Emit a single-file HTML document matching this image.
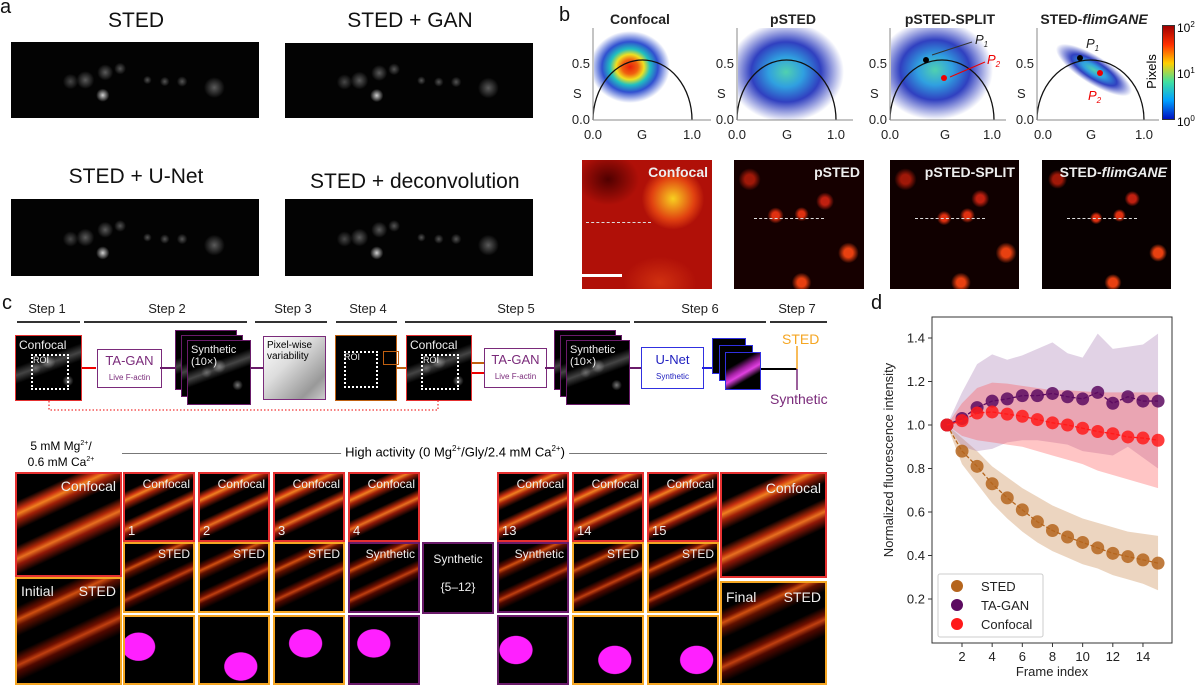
<!DOCTYPE html>
<html><head><meta charset="utf-8">
<style>
body{margin:0;background:#fff;}
#root{position:relative;width:1200px;height:691px;overflow:hidden;font-family:"Liberation Sans",sans-serif;background:#fff;}
.abs{position:absolute;}
.lbl{position:absolute;font-size:20px;color:#111;}
.img{position:absolute;background:#000;box-sizing:border-box;}
.gray{background:radial-gradient(circle at 30% 50%,rgba(150,150,150,.6) 0,rgba(0,0,0,0) 5%),radial-gradient(circle at 38% 40%,rgba(150,150,150,.6) 0,rgba(0,0,0,0) 5%),radial-gradient(circle at 37% 70%,rgba(230,230,230,.9) 0,rgba(0,0,0,0) 4%),radial-gradient(circle at 44% 35%,rgba(140,140,140,.6) 0,rgba(0,0,0,0) 4%),radial-gradient(circle at 55% 50%,rgba(140,140,140,.6) 0,rgba(0,0,0,0) 3%),radial-gradient(circle at 62% 52%,rgba(140,140,140,.6) 0,rgba(0,0,0,0) 3%),radial-gradient(circle at 69% 52%,rgba(140,140,140,.6) 0,rgba(0,0,0,0) 3%),radial-gradient(circle at 82% 60%,rgba(150,150,150,.6) 0,rgba(0,0,0,0) 5%),radial-gradient(circle at 24% 52%,rgba(140,140,140,.5) 0,rgba(0,0,0,0) 4%),#030303;}
.gray2{background:radial-gradient(circle at 30% 50%,rgba(150,150,150,.5) 0,rgba(0,0,0,0) 10%),radial-gradient(circle at 50% 40%,rgba(180,180,180,.6) 0,rgba(0,0,0,0) 14%),radial-gradient(circle at 80% 70%,rgba(200,200,200,.6) 0,rgba(0,0,0,0) 8%),linear-gradient(160deg,#000 35%,#444 45%,#000 55%),#060606;}
.ttl{position:absolute;font-size:21px;color:#111;text-align:center;white-space:nowrap;}
.step{position:absolute;font-size:13px;color:#222;top:301px;white-space:nowrap;transform:translateX(-50%);}
.sline{position:absolute;height:2px;background:#333;top:321px;}
.dend{background:linear-gradient(155deg,#000 18%,#c83010 24%,#f08020 27%,#a02008 31%,#000 38%,#000 48%,#b02808 54%,#e87020 57%,#901808 61%,#000 68%);}
.dend2{background:linear-gradient(155deg,#000 18%,#701000 24%,#d05010 27%,#601000 31%,#000 38%,#000 48%,#701000 54%,#c04010 57%,#500800 61%,#000 68%);}
.tl{position:absolute;font-size:12px;color:#eee;white-space:nowrap;}
.bred{border:2px solid #e53030;}
.bor{border:2px solid #f5a623;}
.bpu{border:2px solid #6a1b6a;}
</style></head>
<body>
<div id="root">

<!-- Panel a -->
<div class="lbl" style="left:0;top:-4px;">a</div>
<div class="ttl" style="left:36px;width:200px;top:9px;">STED</div>
<div class="ttl" style="left:310px;width:200px;top:9px;">STED + GAN</div>
<div class="ttl" style="left:36px;width:200px;top:165px;">STED + U-Net</div>
<div class="ttl" style="left:310px;width:200px;top:170px;">STED + deconvolution</div>
<div class="img gray" style="left:11px;top:42px;width:248px;height:76px;"></div>
<div class="img gray" style="left:285px;top:43px;width:248px;height:75px;"></div>
<div class="img gray" style="left:11px;top:199px;width:248px;height:77px;"></div>
<div class="img gray" style="left:285px;top:199px;width:248px;height:77px;"></div>

<!-- Panel b -->
<div class="lbl" style="left:559px;top:4px;">b</div>
<svg class="abs" style="left:0;top:0" width="1200" height="150" font-family="Liberation Sans" font-size="13" fill="#222">
<defs>
<radialGradient id="c1"><stop offset="0" stop-color="#e82008"/><stop offset=".2" stop-color="#f06010"/><stop offset=".35" stop-color="#f0e020"/><stop offset=".5" stop-color="#20c0c0"/><stop offset=".7" stop-color="#3050d0"/><stop offset="1" stop-color="#3050d0" stop-opacity="0"/></radialGradient>
<radialGradient id="c2"><stop offset="0" stop-color="#50d0b0"/><stop offset=".3" stop-color="#30a0e0"/><stop offset=".6" stop-color="#3040c0"/><stop offset="1" stop-color="#3040c0" stop-opacity="0"/></radialGradient>
<clipPath id="k1"><rect x="594" y="28" width="117" height="92"/></clipPath>
<clipPath id="k2"><rect x="738" y="28" width="115" height="92"/></clipPath>
<clipPath id="k3"><rect x="891" y="28" width="115" height="92"/></clipPath>
<clipPath id="k4"><rect x="1038" y="28" width="121" height="92"/></clipPath>
</defs>
<g>
<ellipse cx="630" cy="67" rx="40" ry="36" fill="url(#c1)" clip-path="url(#k1)"/>
<path d="M593,120 A49.5,60 0 0 1 692,120" fill="none" stroke="#111" stroke-width="1.3"/>
<line x1="593" y1="28" x2="593" y2="120" stroke="#888"/><line x1="593" y1="120" x2="711" y2="120" stroke="#888"/>
<text x="640" y="24" font-weight="bold" font-size="14" text-anchor="middle">Confocal</text>
<text x="590" y="68" text-anchor="end">0.5</text><text x="573" y="98">S</text><text x="590" y="124" text-anchor="end">0.0</text>
<text x="593" y="139" text-anchor="middle">0.0</text><text x="642" y="139" text-anchor="middle">G</text><text x="692" y="139" text-anchor="middle">1.0</text>
</g>
<g>
<ellipse cx="786" cy="72" rx="58" ry="50" fill="url(#c2)" clip-path="url(#k2)"/>
<path d="M737,120 A49.5,60 0 0 1 836,120" fill="none" stroke="#111" stroke-width="1.3"/>
<line x1="737" y1="28" x2="737" y2="120" stroke="#888"/><line x1="737" y1="120" x2="853" y2="120" stroke="#888"/>
<text x="793" y="24" font-weight="bold" font-size="14" text-anchor="middle">pSTED</text>
<text x="734" y="68" text-anchor="end">0.5</text><text x="717" y="98">S</text><text x="734" y="124" text-anchor="end">0.0</text>
<text x="737" y="139" text-anchor="middle">0.0</text><text x="787" y="139" text-anchor="middle">G</text><text x="836" y="139" text-anchor="middle">1.0</text>
</g>
<g>
<ellipse cx="935" cy="70" rx="58" ry="50" fill="url(#c2)" clip-path="url(#k3)"/>
<path d="M890,120 A52,60 0 0 1 994,120" fill="none" stroke="#111" stroke-width="1.3"/>
<line x1="890" y1="28" x2="890" y2="120" stroke="#888"/><line x1="890" y1="120" x2="1006" y2="120" stroke="#888"/>
<circle cx="926" cy="60" r="3" fill="#000"/><circle cx="944" cy="78" r="3" fill="#e00"/>
<line x1="932" y1="55" x2="972" y2="42" stroke="#333"/><line x1="950" y1="77" x2="985" y2="62" stroke="#e00"/>
<text x="950" y="24" font-weight="bold" font-size="14" text-anchor="middle">pSTED-SPLIT</text>
<text x="975" y="44" font-style="italic">P<tspan font-size="8" dy="3">1</tspan></text>
<text x="987" y="64" font-style="italic" fill="#e00">P<tspan font-size="8" dy="3">2</tspan></text>
<text x="887" y="68" text-anchor="end">0.5</text><text x="870" y="98">S</text><text x="887" y="124" text-anchor="end">0.0</text>
<text x="890" y="139" text-anchor="middle">0.0</text><text x="945" y="139" text-anchor="middle">G</text><text x="992" y="139" text-anchor="middle">1.0</text>
</g>
<g>
<ellipse cx="1094" cy="70" rx="44" ry="14" transform="rotate(32 1094 70)" fill="url(#c2)" clip-path="url(#k4)"/>
<path d="M1037,120 A53.5,60 0 0 1 1144,120" fill="none" stroke="#111" stroke-width="1.3"/>
<line x1="1037" y1="28" x2="1037" y2="120" stroke="#888"/><line x1="1037" y1="120" x2="1159" y2="120" stroke="#888"/>
<circle cx="1080" cy="58" r="3" fill="#000"/><circle cx="1100" cy="73" r="3" fill="#e00"/>
<text x="1094" y="24" font-weight="bold" font-size="14" text-anchor="middle">STED-<tspan font-style="italic">flimGANE</tspan></text>
<text x="1086" y="48" font-style="italic">P<tspan font-size="8" dy="3">1</tspan></text>
<text x="1088" y="100" font-style="italic" fill="#e00">P<tspan font-size="8" dy="3">2</tspan></text>
<text x="1034" y="68" text-anchor="end">0.5</text><text x="1017" y="98">S</text><text x="1034" y="124" text-anchor="end">0.0</text>
<text x="1043" y="139" text-anchor="middle">0.0</text><text x="1091" y="139" text-anchor="middle">G</text><text x="1144" y="139" text-anchor="middle">1.0</text>
</g>
</svg>
<div class="abs" style="left:1162px;top:25px;width:11px;height:93px;background:linear-gradient(#a00000,#ff3000,#ffd000,#40e0a0,#00a0ff,#0010c0);border:1px solid #333;"></div>
<div class="abs" style="left:1177px;top:20px;font-size:12px;">10<sup style="font-size:8px">2</sup></div>
<div class="abs" style="left:1177px;top:66px;font-size:12px;">10<sup style="font-size:8px">1</sup></div>
<div class="abs" style="left:1177px;top:114px;font-size:12px;">10<sup style="font-size:8px">0</sup></div>
<div class="abs" style="left:1134px;top:64px;font-size:13px;transform:rotate(-90deg);">Pixels</div>

<div class="img" style="left:582px;top:160px;width:130px;height:129px;background:radial-gradient(ellipse 30% 30% at 70% 30%,#f8d020,#e04010 55%,rgba(176,16,8,0) 80%),radial-gradient(ellipse 35% 25% at 60% 95%,#d03010,rgba(176,16,8,0) 80%),radial-gradient(ellipse 30% 25% at 20% 15%,#500000,rgba(176,16,8,0) 80%),#b01008;"><div class="tl" style="right:4px;top:4px;font-size:14px;font-weight:bold;">Confocal</div><div class="abs" style="left:0;top:114px;width:40px;height:3px;background:#fff;"></div><div class="abs" style="left:4px;top:62px;width:65px;border-top:1px dashed #ddd;"></div></div>
<div class="img" style="left:734px;top:160px;width:130px;height:129px;background:radial-gradient(circle at 32% 43%,#e03010 3%,rgba(0,0,0,0) 7%),radial-gradient(circle at 52% 42%,#e03010 3%,rgba(0,0,0,0) 7%),radial-gradient(circle at 88% 72%,#e84010 3%,rgba(0,0,0,0) 7%),radial-gradient(circle at 70% 32%,#c02010 3%,rgba(0,0,0,0) 7%),radial-gradient(circle at 52% 95%,#e84010 3%,rgba(0,0,0,0) 7%),radial-gradient(circle at 12% 15%,#a01808 3%,rgba(0,0,0,0) 7%),#160000;"><div class="tl" style="right:4px;top:4px;font-size:14px;font-weight:bold;">pSTED</div><div class="abs" style="left:20px;top:58px;width:70px;border-top:1px dashed #ddd;"></div></div>
<div class="img" style="left:890px;top:160px;width:129px;height:129px;background:radial-gradient(circle at 42% 45%,#e03010 3%,rgba(0,0,0,0) 7%),radial-gradient(circle at 60% 43%,#e03010 3%,rgba(0,0,0,0) 7%),radial-gradient(circle at 90% 72%,#e84010 3%,rgba(0,0,0,0) 7%),radial-gradient(circle at 70% 30%,#c02010 3%,rgba(0,0,0,0) 7%),radial-gradient(circle at 55% 95%,#e84010 3%,rgba(0,0,0,0) 7%),radial-gradient(circle at 12% 15%,#a01808 3%,rgba(0,0,0,0) 7%),#100000;"><div class="tl" style="right:4px;top:4px;font-size:14px;font-weight:bold;">pSTED-SPLIT</div><div class="abs" style="left:25px;top:58px;width:70px;border-top:1px dashed #ddd;"></div></div>
<div class="img" style="left:1042px;top:160px;width:129px;height:129px;background:radial-gradient(circle at 42% 45%,#e03010 3%,rgba(0,0,0,0) 6%),radial-gradient(circle at 60% 43%,#e03010 3%,rgba(0,0,0,0) 6%),radial-gradient(circle at 90% 72%,#e84010 3%,rgba(0,0,0,0) 6%),radial-gradient(circle at 70% 30%,#c02010 3%,rgba(0,0,0,0) 6%),radial-gradient(circle at 55% 95%,#e84010 3%,rgba(0,0,0,0) 6%),radial-gradient(circle at 12% 15%,#a01808 3%,rgba(0,0,0,0) 6%),#080000;"><div class="tl" style="right:4px;top:4px;font-size:14px;font-weight:bold;">STED-<i>flimGANE</i></div><div class="abs" style="left:25px;top:58px;width:70px;border-top:1px dashed #ddd;"></div></div>

<!-- Panel c -->
<div class="lbl" style="left:2px;top:292px;">c</div>
<div class="step" style="left:47px;">Step 1</div>
<div class="step" style="left:167px;">Step 2</div>
<div class="step" style="left:293px;">Step 3</div>
<div class="step" style="left:368px;">Step 4</div>
<div class="step" style="left:516px;">Step 5</div>
<div class="step" style="left:700px;">Step 6</div>
<div class="step" style="left:797px;">Step 7</div>
<div class="sline" style="left:17px;width:63px;"></div><div class="sline" style="left:84px;width:163px;"></div><div class="sline" style="left:255px;width:72px;"></div><div class="sline" style="left:336px;width:61px;"></div><div class="sline" style="left:405px;width:225px;"></div><div class="sline" style="left:634px;width:132px;"></div><div class="sline" style="left:770px;width:57px;"></div>

<div class="img bred gray2" style="left:15px;top:335px;width:67px;height:66px;border-width:1px;"><div class="tl" style="left:3px;top:2px;font-size:12px;">Confocal</div><div class="abs" style="left:15px;top:18px;width:34px;height:32px;border:2px dotted #fff;"></div><div class="tl" style="left:17px;top:19px;font-size:9px;">ROI</div></div>
<div class="abs" style="left:97px;top:349px;width:63px;height:37px;border:1px solid #7a2a7a;text-align:center;color:#7a2a7a;"><div style="font-size:13px;margin-top:3px;white-space:nowrap;">TA-GAN</div><div style="font-size:8px;margin-top:5px;white-space:nowrap;">Live F-actin</div></div>
<div class="img bpu gray2" style="left:175px;top:330px;width:62px;height:60px;border-width:1px;"></div><div class="img bpu gray2" style="left:181px;top:335px;width:62px;height:62px;border-width:1px;"></div>
<div class="img bpu gray2" style="left:187px;top:340px;width:64px;height:65px;border-width:1px;"><div class="tl" style="left:3px;top:3px;font-size:11px;">Synthetic<br>(10×)</div></div>
<div class="abs" style="left:263px;top:336px;width:63px;height:64px;border:1px solid #7a2a7a;background:linear-gradient(135deg,#fff,#ddd 40%,#999 80%,#ccc);font-size:10px;box-sizing:border-box;"><div style="margin:3px;">Pixel-wise variability</div></div>
<div class="img" style="left:335px;top:335px;width:62px;height:66px;border:1px solid #c06010;"><div class="tl" style="left:8px;top:16px;font-size:9px;">ROI</div><div class="abs" style="left:8px;top:15px;width:30px;height:33px;border:2px dotted #fff;"></div><div class="abs" style="left:47px;top:15px;width:14px;height:12px;border:1px solid #c06010;"></div></div>
<div class="img bred gray2" style="left:406px;top:335px;width:66px;height:66px;border-width:1px;"><div class="tl" style="left:3px;top:2px;font-size:12px;">Confocal</div><div class="abs" style="left:14px;top:18px;width:34px;height:32px;border:2px dotted #fff;"></div><div class="tl" style="left:16px;top:19px;font-size:9px;">ROI</div></div>
<div class="abs" style="left:484px;top:348px;width:61px;height:38px;border:1px solid #7a2a7a;text-align:center;color:#7a2a7a;"><div style="font-size:13px;margin-top:3px;white-space:nowrap;">TA-GAN</div><div style="font-size:8px;margin-top:5px;white-space:nowrap;">Live F-actin</div></div>
<div class="img bpu gray2" style="left:554px;top:330px;width:62px;height:60px;border-width:1px;"></div><div class="img bpu gray2" style="left:560px;top:335px;width:62px;height:62px;border-width:1px;"></div>
<div class="img bpu gray2" style="left:566px;top:340px;width:64px;height:65px;border-width:1px;"><div class="tl" style="left:3px;top:3px;font-size:11px;">Synthetic<br>(10×)</div></div>
<div class="abs" style="left:641px;top:347px;width:61px;height:40px;border:1px solid #3030e0;text-align:center;color:#2020c0;"><div style="font-size:13px;margin-top:4px;">U-Net</div><div style="font-size:8px;margin-top:5px;">Synthetic</div></div>
<div class="img" style="left:712px;top:338px;width:34px;height:36px;border:1px solid #3030e0;"></div><div class="img" style="left:719px;top:345px;width:34px;height:36px;border:1px solid #3030e0;"></div>
<div class="img" style="left:725px;top:352px;width:36px;height:38px;border:1px solid #3030e0;background:linear-gradient(150deg,#000 30%,#a020a0 45%,#e040e0 55%,#000 70%);"></div>
<svg class="abs" style="left:0;top:330px" width="870" height="90">
<line x1="82" y1="38" x2="96" y2="38" stroke="#e00" stroke-width="2"/>
<line x1="160" y1="38" x2="175" y2="38" stroke="#6a1b6a" stroke-width="2"/>
<line x1="251" y1="38" x2="263" y2="38" stroke="#6a1b6a" stroke-width="2"/>
<line x1="397" y1="38" x2="406" y2="38" stroke="#c06010" stroke-width="2"/>
<line x1="472" y1="33" x2="484" y2="33" stroke="#c06010" stroke-width="2"/><line x1="472" y1="43" x2="484" y2="43" stroke="#e00" stroke-width="2"/>
<line x1="545" y1="38" x2="554" y2="38" stroke="#6a1b6a" stroke-width="2"/>
<line x1="630" y1="38" x2="641" y2="38" stroke="#6a1b6a" stroke-width="2"/>
<line x1="702" y1="38" x2="712" y2="38" stroke="#2020e0" stroke-width="2"/>
<line x1="761" y1="39" x2="797" y2="39" stroke="#000" stroke-width="2"/>
<line x1="797" y1="39" x2="797" y2="16" stroke="#f5a623" stroke-width="1.5"/><line x1="797" y1="39" x2="797" y2="60" stroke="#7a2a7a" stroke-width="1.5"/>
<polyline points="49,71 49,80 438,80 438,71" fill="none" stroke="#e00" stroke-dasharray="1.5 2"/>
</svg>
<div class="abs" style="left:782px;top:331px;font-size:14px;color:#f5a623;">STED</div>
<div class="abs" style="left:770px;top:391px;font-size:14px;color:#7a2a7a;">Synthetic</div>

<div class="abs" style="left:20px;top:437px;width:82px;font-size:12px;line-height:14px;text-align:center;">5 mM Mg<sup style="font-size:7px">2+</sup>/<br>0.6 mM Ca<sup style="font-size:7px">2+</sup></div>
<div class="abs" style="left:122px;top:453px;width:705px;height:1px;background:#777;"></div>
<div class="abs" style="left:455px;top:444px;transform:translateX(-50%);background:#fff;padding:0 4px;font-size:13px;white-space:nowrap;">High activity (0 Mg<sup style="font-size:8px">2+</sup>/Gly/2.4 mM Ca<sup style="font-size:8px">2+</sup>)</div>

<div id="tiles"></div>

<!-- Panel d -->
<div class="lbl" style="left:871px;top:292px;">d</div>
<svg id="chart" class="abs" style="left:0;top:0" width="1200" height="691" font-family="Liberation Sans"></svg>
</div>

<script>
const tiles=document.getElementById('tiles');
function tile(x,y,w,h,cls,extra,name,label,lpos){
  const d=document.createElement('div');
  d.className='img '+cls;
  d.style.cssText='left:'+x+'px;top:'+y+'px;width:'+w+'px;height:'+h+'px;'+(extra||'');
  
  
  if(label){const t=document.createElement('div');t.className='tl';t.style.cssText=lpos||'right:3px;top:2px;';t.innerHTML=label;d.appendChild(t);}
  tiles.appendChild(d);return d;
}
const cols=[123,198,273,348,497,572,647];
const nums=['1','2','3','4','13','14','15'];
const maskPos=['20% 45%','60% 75%','45% 40%','35% 40%','25% 50%','60% 65%','70% 65%'];
for(let i=0;i<7;i++){
  const x=cols[i];
  const c=tile(x,472,72,70,'bred dend','','confocal-frame-'+nums[i],'Confocal','right:3px;top:3px;font-size:12px;');
  const n=document.createElement('div');n.className='tl';n.style.cssText='left:3px;bottom:2px;font-size:13px;';n.textContent=nums[i];c.appendChild(n);
  const syn=(i==3||i==4);
  tile(x,542,72,71,(syn?'bpu':'bor')+' dend2','','sted-frame-'+nums[i],syn?'Synthetic':'STED','right:3px;top:3px;font-size:12px;');
  tile(x,615,72,70,syn?'bpu':'bor','background:radial-gradient(ellipse 25% 22% at '+maskPos[i]+',#ff20ff 95%,rgba(0,0,0,0) 100%),#000;','mask-frame-'+nums[i]);
}
tile(422,542,72,72,'bpu','background:#000;','synthetic-5-12','Synthetic<br><br>{5–12}','left:0;right:0;text-align:center;top:8px;font-size:12px;');
const ic=tile(15,472,107,105,'bred dend','','initial-confocal','Confocal','right:4px;top:4px;font-size:14px;');
const is=tile(15,577,107,108,'bor dend2','','initial-sted','Initial','left:4px;top:4px;font-size:14px;');
const is2=document.createElement('div');is2.className='tl';is2.style.cssText='right:4px;top:4px;font-size:14px;';is2.textContent='STED';is.appendChild(is2);
tile(720,472,107,106,'bred dend','','final-confocal','Confocal','right:4px;top:6px;font-size:14px;');
const fs=tile(720,581,107,104,'bor dend2','','final-sted','Final','left:4px;top:6px;font-size:14px;');
const fs2=document.createElement('div');fs2.className='tl';fs2.style.cssText='right:4px;top:6px;font-size:14px;';fs2.textContent='STED';fs.appendChild(fs2);

// Chart d
const frames=[1,2,3,4,5,6,7,8,9,10,11,12,13,14,15];
const stedMean=[1,0.88,0.81,0.73,0.665,0.61,0.555,0.515,0.485,0.46,0.435,0.41,0.395,0.38,0.365];
const stedLow=[1,0.82,0.73,0.64,0.57,0.51,0.46,0.42,0.39,0.36,0.34,0.31,0.29,0.27,0.24];
const stedHigh=[1,0.94,0.88,0.81,0.76,0.71,0.67,0.63,0.6,0.57,0.55,0.53,0.51,0.5,0.49];
const ganMean=[1,1.03,1.08,1.11,1.12,1.135,1.135,1.145,1.13,1.12,1.15,1.10,1.13,1.11,1.11];
const ganLow=[1,0.9,0.88,0.89,0.92,0.93,0.93,0.92,0.91,0.88,0.87,0.86,0.9,0.85,0.8];
const ganHigh=[1,1.15,1.28,1.325,1.3,1.32,1.35,1.38,1.33,1.31,1.42,1.35,1.36,1.37,1.42];
const confMean=[1,1.02,1.055,1.06,1.05,1.04,1.025,1.01,1.0,0.985,0.97,0.96,0.945,0.94,0.93];
const confLow=[1,0.95,0.93,0.92,0.91,0.9,0.88,0.86,0.84,0.82,0.79,0.77,0.75,0.73,0.71];
const confHigh=[1,1.1,1.17,1.195,1.19,1.18,1.17,1.16,1.16,1.155,1.15,1.15,1.15,1.15,1.15];
const xTicks=[2,4,6,8,10,12,14];
const yTicks=[0.2,0.4,0.6,0.8,1.0,1.2,1.4];

const svg=document.getElementById('chart');
const NS='http://www.w3.org/2000/svg';
const X=v=>962+(v-2)*15.08;
const Y=v=>338+(1.4-v)*217.5;
function el(tag,attrs,parent){const e=document.createElementNS(NS,tag);for(const k in attrs)e.setAttribute(k,attrs[k]);(parent||svg).appendChild(e);return e;}
const box=el('rect',{x:932,y:317,width:240,height:326,fill:'none',stroke:'#333','stroke-width':1});


function band(lo,hi,color,op,name){
  let d='M'+frames.map((f,i)=>X(f)+','+Y(hi[i])).join(' L');
  d+=' L'+frames.slice().reverse().map((f,j)=>{const i=frames.length-1-j;return X(f)+','+Y(lo[i]);}).join(' L')+'Z';
  const p=el('path',{d:d,fill:color,'fill-opacity':op});
  
  
}
band(stedLow,stedHigh,'#c8864a',0.35,'sted-band');
band(ganLow,ganHigh,'#9a6aa8',0.3,'tagan-band');
band(confLow,confHigh,'#ff4040',0.3,'confocal-band');
function series(m,color,name){
  const l=el('polyline',{points:frames.map((f,i)=>X(f)+','+Y(m[i])).join(' '),fill:'none',stroke:color,'stroke-width':1.3,'stroke-dasharray':'4 2'});
  
  
  frames.forEach((f,i)=>{
    const c=el('circle',{cx:X(f),cy:Y(m[i]),r:6.5,fill:color,'fill-opacity':0.85});
    
    
  });
}
series(stedMean,'#b5651d','sted');
series(ganMean,'#5c0a60','tagan');
series(confMean,'#ff1a1a','confocal');
xTicks.forEach(t=>{
  el('line',{x1:X(t),x2:X(t),y1:643,y2:647,stroke:'#333'});
  const tx=el('text',{x:X(t),y:661,'text-anchor':'middle','font-size':13,fill:'#222'});tx.textContent=t;
  
  
});
yTicks.forEach(t=>{
  el('line',{x1:928,x2:932,y1:Y(t),y2:Y(t),stroke:'#333'});
  const tx=el('text',{x:925,y:Y(t)+4.5,'text-anchor':'end','font-size':13,fill:'#222'});tx.textContent=t.toFixed(1);
  
  
});
const xt=el('text',{x:1052,y:676,'text-anchor':'middle','font-size':13,fill:'#222'});xt.textContent='Frame index';


const yt=el('text',{x:0,y:0,'text-anchor':'middle','font-size':13,fill:'#222',transform:'translate(893,460) rotate(-90)'});yt.textContent='Normalized fluorescence intensity';


const lg=el('rect',{x:938,y:574,width:105,height:63,fill:'#fff',stroke:'#ccc',rx:2});


[['STED','#b5651d'],['TA-GAN','#5c0a60'],['Confocal','#ff1a1a']].forEach((e,i)=>{
  const c=el('circle',{cx:957,cy:586+i*19,r:6,fill:e[1]});
  
  
  const t=el('text',{x:981,y:591+i*19,'font-size':13,fill:'#222'});t.textContent=e[0];
  
  
});
</script>
</body></html>
